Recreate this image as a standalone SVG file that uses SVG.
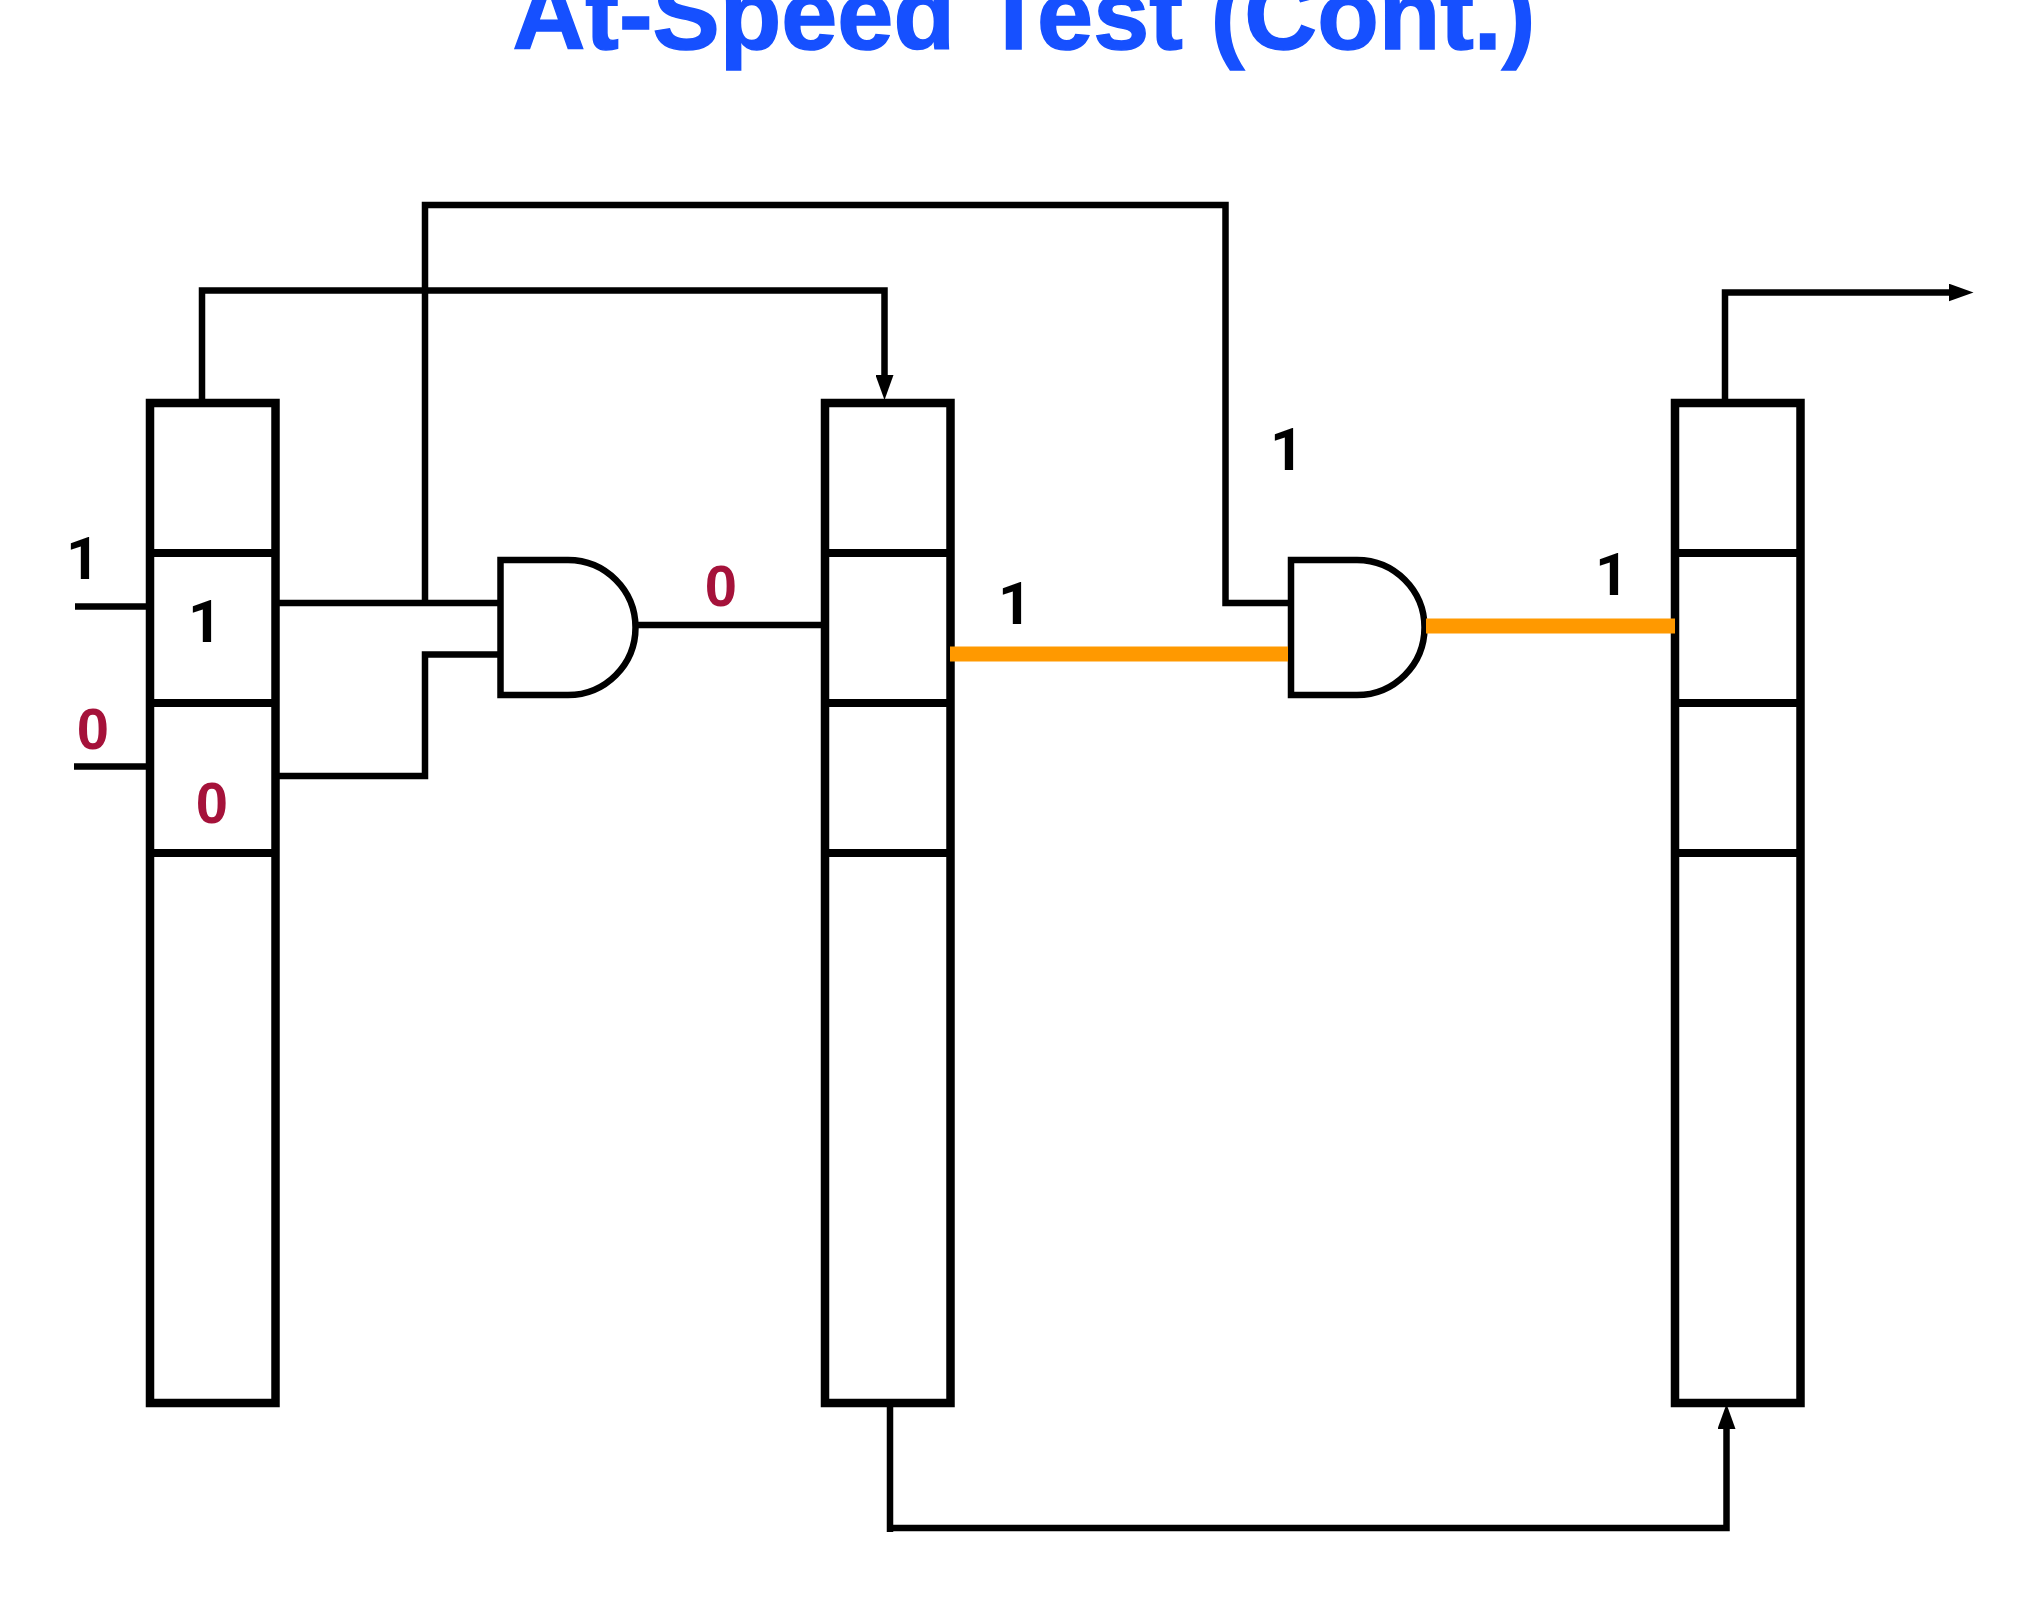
<svg xmlns="http://www.w3.org/2000/svg" width="2026" height="1613" viewBox="0 0 2026 1613">
<style>
.reg{fill:#fff;stroke:#000;stroke-width:8.5}
.div{stroke:#000;stroke-width:8;fill:none}
.gate{fill:#fff;stroke:#000;stroke-width:6.5}
.w{fill:none;stroke:#000;stroke-width:6.5}
.hot{fill:none;stroke:#FF9900;stroke-width:15}
text{font-family:"Liberation Sans",Arial,sans-serif;font-weight:bold}
.d{font-size:58px;text-anchor:middle}
.k{fill:#000;font-family:Roboto,"Liberation Sans",sans-serif;font-size:59px}
.r{fill:#A5123A}
</style>
<defs>
<marker id="ah" markerUnits="userSpaceOnUse" markerWidth="27" markerHeight="18" refX="1" refY="9" orient="auto"><path d="M0,0L25,9L0,18Z" fill="#000"/></marker>
</defs>
<rect width="2026" height="1613" fill="#fff"/>
<text id="title" x="1024" y="49" font-size="100.8" text-anchor="middle" fill="#1650FF" stroke="#1650FF" stroke-width="1.5">At-Speed Test (Cont.)</text>
<g id="connectors">
<path class="w" d="M425,603V205H1225.5V603H1290"/>
<path class="w" d="M202,403V290.5H884.5V376" marker-end="url(#ah)"/>
<path class="w" d="M75,606.5H150"/>
<path class="w" d="M74,766.5H150"/>
<path class="w" d="M275,603H500"/>
<path class="w" d="M275,776H425V654.5H500"/>
<path class="w" d="M635,625H825"/>
<path class="w" d="M1725,403V292.5H1949.5" marker-end="url(#ah)"/>
<path class="w" d="M890,1403V1532"/>
</g>
<g id="reg1"><rect class="reg" x="150" y="403" width="125.5" height="1000"/><path class="div" d="M150,553H275M150,703H275M150,853H275"/></g>
<g id="reg2"><rect class="reg" x="825" y="403" width="125.5" height="1000"/><path class="div" d="M825,553H950M825,703H950M825,853H950"/></g>
<g id="reg3"><rect class="reg" x="1675" y="403" width="125.5" height="1000"/><path class="div" d="M1675,553H1800M1675,703H1800M1675,853H1800"/></g>
<g id="connector-return"><path class="w" d="M890,1528H1726.5V1428" marker-end="url(#ah)"/></g>
<g id="gate1"><path class="gate" d="M500.5,560H568A67.5,67.5 0 0 1 568,695H500.5Z"/></g>
<g id="gate2"><path class="gate" d="M1291,560H1357A67.5,67.5 0 0 1 1357,695H1291Z"/></g>
<g id="sensitized">
<path class="hot" d="M950,654H1288"/>
<path class="hot" d="M1426,626H1675"/>
</g>
<g id="labels">
<text class="d k" x="83" y="579">1</text>
<text class="d k" x="205" y="642">1</text>
<text class="d r" x="93" y="749">0</text>
<text class="d r" x="212" y="823">0</text>
<text class="d r" x="721" y="606">0</text>
<text class="d k" x="1015" y="624">1</text>
<text class="d k" x="1287" y="470">1</text>
<text class="d k" x="1612" y="595">1</text>
</g>
</svg>
